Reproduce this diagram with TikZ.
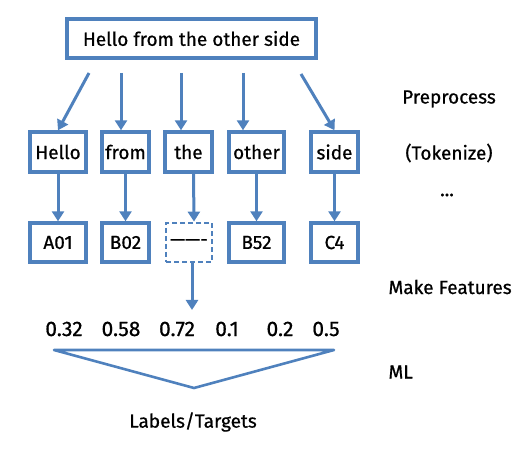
\documentclass[tikz,border=0pt]{standalone}
\usepackage{fontspec}
\setmainfont{Fira Sans}[RawFeature={embolden=0.7}]
\usepackage{tikz}
\usetikzlibrary{positioning,arrows.meta}
\definecolor{boxblue}{HTML}{4F81BD}
\tikzstyle{word} = [rectangle, draw=boxblue, line width=3.4pt, minimum height=40pt, inner sep=1pt, font=\fontsize{19}{22}\selectfont]
\tikzstyle{arr} = [-{Triangle[length=10pt,width=12pt]}, draw=boxblue, line width=3pt]
\tikzstyle{lbl} = [font=\fontsize{19}{22}\selectfont]
\tikzstyle{num} = [font=\fontsize{21}{24}\selectfont]

\begin{document}
\begin{tikzpicture}[x=1pt, y=-1pt]
\useasboundingbox (0,0) rectangle (530,454);
\node[word, minimum width=249pt, minimum height=39pt] (sent) at (191.5,38.5) {Hello from the other side};
\node[word, minimum width=56pt] (hello) at (58,152) {Hello};
\node[word, minimum width=47pt] (from) at (125.5,152) {from};
\node[word, minimum width=47pt] (the) at (188.5,152) {the};
\node[word, minimum width=55pt] (other) at (256.5,152) {other};
\node[word, minimum width=47pt] (side) at (334.5,152) {side};
\node[word, minimum width=56pt, minimum height=39pt] (a01) at (58,242.5) {A01};
\node[word, minimum width=47pt, minimum height=39pt] (b02) at (125.5,242.5) {B02};
\node[word, minimum width=46pt, minimum height=39pt, dash pattern=on 5pt off 3pt, line width=2.8pt] (blank) at (189,242.5) {\textemdash\textemdash-};
\node[word, minimum width=55pt, minimum height=39pt] (b52) at (256.5,242.5) {B52};
\node[word, minimum width=47pt, minimum height=39pt] (c4) at (334.5,242.5) {C4};
\node[num] (n1) at (64,329) {0.32};
\node[num] (n2) at (121,329) {0.58};
\node[num] (n3) at (177,329) {0.72};
\node[num] (n4) at (227,329) {0.1};
\node[num] (n5) at (280,329) {0.2};
\node[num] (n6) at (326,329) {0.5};
\node[lbl] (targets) at (193,422) {Labels/Targets};
\node[lbl] (prep) at (449,99) {Preprocess};
\node[lbl] (tok) at (449,153) {(Tokenize)};
\node[lbl] (dots) at (447,195) {...};
\node[lbl, anchor=west] (feat) at (385,287) {Make Features};
\node[lbl, anchor=west] (ml) at (385,372) {ML};
% arrow start points
\coordinate (s1) at (89,73);
\coordinate (s2) at (121,73);
\coordinate (s3) at (181,73);
\coordinate (s4) at (243,73);
\coordinate (s5) at (301,74);
\coordinate (f0) at (192,310);
% tokens
\draw[arr] (s1) -- (hello.north);
\draw[arr] (s2) -- (s2 |- from.north);
\draw[arr] (s3) -- (s3 |- the.north);
\draw[arr] (s4) -- (s4 |- other.north);
\draw[arr] (s5) -- (side.north);
% features
\draw[arr] (hello) -- (a01);
\draw[arr] (from) -- (b02);
\draw[arr] ([xshift=5pt]the.south) -- ([xshift=5pt]blank.north);
\draw[arr] (other) -- (b52);
\draw[arr] (side) -- (c4);
\draw[arr] ([xshift=3pt]blank.south) -- (f0);
% ml
\draw[boxblue, line width=2.6pt, line join=round] (54,350) -- (334,350) -- (194,388) -- cycle;
\end{tikzpicture}
\end{document}
